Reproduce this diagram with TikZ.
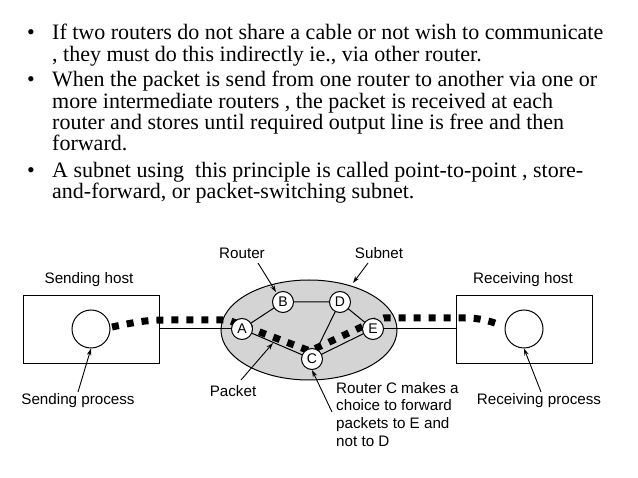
\documentclass[tikz,border=0pt]{standalone}
\usepackage{fontspec}
\setmainfont{Liberation Serif}
\newfontfamily\diagfont{Liberation Sans}
\usetikzlibrary{arrows.meta,shapes.geometric}
\definecolor{subnetgray}{RGB}{212,212,212}
\begin{document}
\begin{tikzpicture}[x=1pt,y=-1pt,
  bul/.style={anchor=base west,inner sep=0pt,font=\fontsize{22}{22}\selectfont},
  lbl/.style={inner sep=0pt,font=\diagfont\fontsize{15.2}{17.7}\selectfont},
  rtr/.style={circle,draw,fill=white,minimum size=21pt,inner sep=0pt,line width=1pt,font=\diagfont\fontsize{14}{14}\selectfont},
  proc/.style={circle,draw,fill=white,minimum size=38pt,inner sep=0pt,line width=1pt},
  hostbox/.style={draw,line width=1pt,minimum width=136pt,minimum height=68pt,inner sep=0pt},
  wire/.style={line width=1pt},
  pkt/.style={line width=7pt,dash pattern=on 7pt off 8pt},
  pointer/.style={line width=0.9pt,-{Stealth[length=7pt,width=4.5pt]}}]
\useasboundingbox (0,0) rectangle (638,478);
% bullet text
\node[bul] (b1) at (27,40) {•};
\node[bul] (t1) at (52,40) {If two routers do not share a cable or not wish to communicate};
\node[bul] (t2) at (52,62) {, they must do this indirectly ie., via other router.};
\node[bul] (b2) at (27,87) {•};
\node[bul] (t3) at (52,87) {When the packet is send from one router to another via one or};
\node[bul] (t4) at (52,109) {more intermediate routers , the packet is received at each};
\node[bul] (t5) at (52,130) {router and stores until required output line is free and then};
\node[bul] (t6) at (52,151) {forward.};
\node[bul] (b3) at (27,178) {•};
\node[bul] (t7) at (52,178) {A subnet using\ \ this principle is called point-to-point , store-};
\node[bul] (t8) at (52,199) {and-forward, or packet-switching subnet.};
% subnet
\node[ellipse,draw,fill=subnetgray,line width=1pt,minimum width=176pt,minimum height=100pt,inner sep=0pt] (subnet) at (309,330) {};
% hosts
\node[hostbox] (shost) at (91,330) {};
\node[hostbox] (rhost) at (524,330) {};
% router coordinates
\coordinate (pA) at (242,329);
\coordinate (pE) at (373,329);
\draw[wire] (shost.east |- pA) -- (pA);
\draw[wire] (pE) -- (rhost.west |- pE);
\draw[wire] (242,329) -- (283,302) -- (340,302) -- (373,329) -- (312,359) -- (242,329);
\draw[wire] (340,302) -- (312,359);
% packet path
\coordinate (q1) at (112,327);
\coordinate (q2) at (228,320);
\coordinate (q3) at (310,351);
\coordinate (q4) at (384,318);
\coordinate (q5) at (500,325);
\draw[pkt] (q1) .. controls (140,321) and (150,320) .. (165,320) -- (q2) -- (q3) -- (370,323) -- (q4) -- (465,318) .. controls (480,318) and (490,321) .. (q5);
% processes
\node[proc] (sproc) at (91,329) {};
\node[proc] (rproc) at (524,329) {};
% routers
\node[rtr] (A) at (242,329) {A};
\node[rtr] (B) at (283,302) {B};
\node[rtr] (D) at (340,302) {D};
\node[rtr] (E) at (373,329) {E};
\node[rtr] (C) at (312,359) {C};
% labels
\node[lbl] (lsh) at (89,280) {Sending host};
\node[lbl] (lrh) at (523,280) {Receiving host};
\node[lbl] (lrouter) at (242,253) {Router};
\node[lbl] (lsubnet) at (379,253) {Subnet};
\node[lbl] (lsp) at (78,401) {Sending process};
\node[lbl] (lrp) at (539,401) {Receiving process};
\node[lbl] (lpkt) at (233,391) {Packet};
\node[lbl,anchor=north west,align=left] (lc) at (336,382) {Router C makes a\\choice to forward\\packets to E and\\not to D};
% pointers
\coordinate (rt) at (276,292);
\coordinate (st) at (353,283);
\coordinate (pt) at (273,343);
\draw[pointer] (258,263) -- (rt);
\draw[pointer] (368,263) -- (st);
\draw[pointer] (78,392) -- (sproc.south);
\draw[pointer] (541,392) -- (rproc.south);
\draw[pointer] (241,380) -- (pt);
\draw[pointer] (332,412) -- (C.south);
\end{tikzpicture}
\end{document}
